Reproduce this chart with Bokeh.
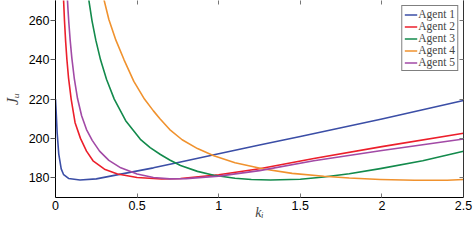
from bokeh.plotting import figure
from bokeh.models import Range1d, LinearAxis, FixedTicker, Legend, LegendItem
from bokeh.embed import file_html
from bokeh.resources import INLINE

# ---- data ----
agent_names = ["Agent 1", "Agent 2", "Agent 3", "Agent 4", "Agent 5"]

k_agent1 = [0.0, 0.005, 0.01, 0.02, 0.035, 0.05, 0.08, 0.15, 0.25, 0.4, 0.6, 0.766, 1.0, 1.25, 1.5, 1.75, 2.0, 2.25, 2.5]
J_agent1 = [220, 212, 203, 192, 184.5, 181.5, 179.6, 178.8, 179.4, 181.8, 185.0, 188.0, 192.2, 196.6, 201.0, 205.4, 209.9, 214.6, 219.3]

k_agent2 = [0.045, 0.05, 0.055, 0.062, 0.07, 0.08, 0.096, 0.12, 0.153, 0.19, 0.23, 0.3, 0.38, 0.5, 0.65, 0.766, 1.0, 1.25, 1.583, 2.0, 2.5]
J_agent2 = [281, 269.5, 260, 249.5, 240, 230.7, 220, 208, 200, 193.5, 188.6, 184.3, 181.9, 180.1, 179.3, 179.6, 181.5, 184.5, 189.8, 195.8, 202.6]

k_agent3 = [0.19, 0.205, 0.2235, 0.247, 0.276, 0.313, 0.36, 0.43, 0.52, 0.58, 0.643, 0.7, 0.766, 0.87, 0.97, 1.1, 1.2, 1.317, 1.5, 1.644, 1.8, 1.99, 2.25, 2.5]
J_agent3 = [280, 270, 260, 250, 240, 230, 220, 209, 199.5, 195.3, 191.8, 189.0, 186.2, 183.2, 181.2, 179.7, 179.1, 178.8, 179.2, 180.3, 182.0, 184.6, 188.6, 193.4]

k_agent4 = [0.296, 0.327, 0.37, 0.42, 0.48, 0.545, 0.6, 0.64, 0.7, 0.776, 0.87, 0.97, 1.1, 1.276, 1.45, 1.644, 1.8, 1.99, 2.2, 2.4, 2.5]
J_agent4 = [271, 260.5, 250, 240, 229, 220, 214, 210, 204.5, 199.3, 194.8, 191.2, 187.6, 184.4, 182.2, 180.7, 179.8, 179.1, 178.7, 178.7, 179.1]

k_agent5 = [0.07, 0.076, 0.082, 0.09, 0.1, 0.115, 0.135, 0.16, 0.19, 0.225, 0.27, 0.327, 0.4, 0.5, 0.6, 0.7, 0.8, 1.0, 1.25, 1.583, 2.0, 2.5]
J_agent5 = [275.5, 266.3, 258.6, 249.9, 241, 230.6, 220.3, 211.5, 204.5, 199, 193.5, 188.8, 185, 181.9, 180.1, 179.4, 179.5, 180.8, 183.6, 188.6, 193.8, 199.7]

x_ticks = [0, 0.5, 1, 1.5, 2, 2.5]
x_tick_labels = ["0", "0.5", "1", "1.5", "2", "2.5"]
y_ticks = [180, 200, 220, 240, 260]
y_tick_labels = ["180", "200", "220", "240", "260"]

colors = ["#3b4ea6", "#ec1f2b", "#138a4c", "#f0922e", "#a24aa6"]

p = figure(width=474, height=249, output_backend="svg", toolbar_location=None,
           x_range=Range1d(0, 2.5), y_range=Range1d(169.9, 270.2),
           min_border_left=55, min_border_right=11, min_border_top=0, min_border_bottom=52,
           x_axis_label="kᵢ", y_axis_label="Jᵤ")
p.grid.visible = False
p.outline_line_color = None
p.background_fill_color = "white"
p.border_fill_color = "white"

ks = [k_agent1, k_agent2, k_agent3, k_agent4, k_agent5]
Js = [J_agent1, J_agent2, J_agent3, J_agent4, J_agent5]
renderers = []
for k, J, c in zip(ks, Js, colors):
    r = p.line(k, J, line_color=c, line_width=1.6, line_join="round")
    renderers.append(r)

# bottom axis
xa = p.xaxis[0]
xa.ticker = FixedTicker(ticks=x_ticks)
xa.major_label_overrides = {t: l for t, l in zip(x_ticks, x_tick_labels)}
xa.major_tick_in = 4
xa.major_tick_out = 0
xa.minor_tick_line_color = None
xa.major_label_standoff = 3
xa.major_label_text_font = "Liberation Sans"
xa.major_label_text_font_size = "12.5px"
xa.major_label_text_color = "black"
xa.axis_line_color = "black"
xa.major_tick_line_color = "#777777"
xa.axis_label_text_font = "Liberation Serif"
xa.axis_label_text_font_style = "italic"
xa.axis_label_text_font_size = "14px"
xa.axis_label_standoff = -8

# left axis
ya = p.yaxis[0]
ya.ticker = FixedTicker(ticks=y_ticks)
ya.major_label_overrides = {t: l for t, l in zip(y_ticks, y_tick_labels)}
ya.major_tick_in = 0
ya.major_tick_out = 5
ya.minor_tick_line_color = None
ya.major_label_standoff = 1
ya.major_label_text_font = "Liberation Sans"
ya.major_label_text_font_size = "12.5px"
ya.major_label_text_color = "black"
ya.axis_line_color = "black"
ya.major_tick_line_color = "#555555"
ya.axis_label_text_font = "Liberation Serif"
ya.axis_label_text_font_style = "italic"
ya.axis_label_text_font_size = "16px"
ya.axis_label_standoff = 5

# right axis (frame line with inward ticks, no labels)
ra = LinearAxis(ticker=FixedTicker(ticks=y_ticks),
                major_label_overrides={t: "" for t in y_ticks},
                major_tick_in=4, major_tick_out=0, minor_tick_line_color=None,
                major_label_standoff=0, axis_line_color="#333333", major_tick_line_color="#777777")
p.add_layout(ra, "right")

# top axis (only inward ticks visible, frame line cropped off)
ta = LinearAxis(ticker=FixedTicker(ticks=x_ticks),
                major_label_overrides={t: "" for t in x_ticks},
                major_tick_in=4, major_tick_out=0, minor_tick_line_color=None,
                major_label_standoff=0, axis_line_color=None, major_tick_line_color="#777777")
p.add_layout(ta, "above")

legend = Legend(items=[LegendItem(label=n, renderers=[r]) for n, r in zip(agent_names, renderers)],
                location="top_right")
legend.label_text_font = "Liberation Serif"
legend.label_text_font_size = "11.5px"
legend.glyph_width = 13
legend.glyph_height = 9
legend.label_height = 9
legend.label_standoff = 1
legend.spacing = -4
legend.padding = 2
legend.margin = 5
legend.border_line_color = "black"
legend.border_line_width = 1
legend.background_fill_alpha = 1.0
p.add_layout(legend, "center")

open("out.html", "w").write(file_html(p, INLINE))
